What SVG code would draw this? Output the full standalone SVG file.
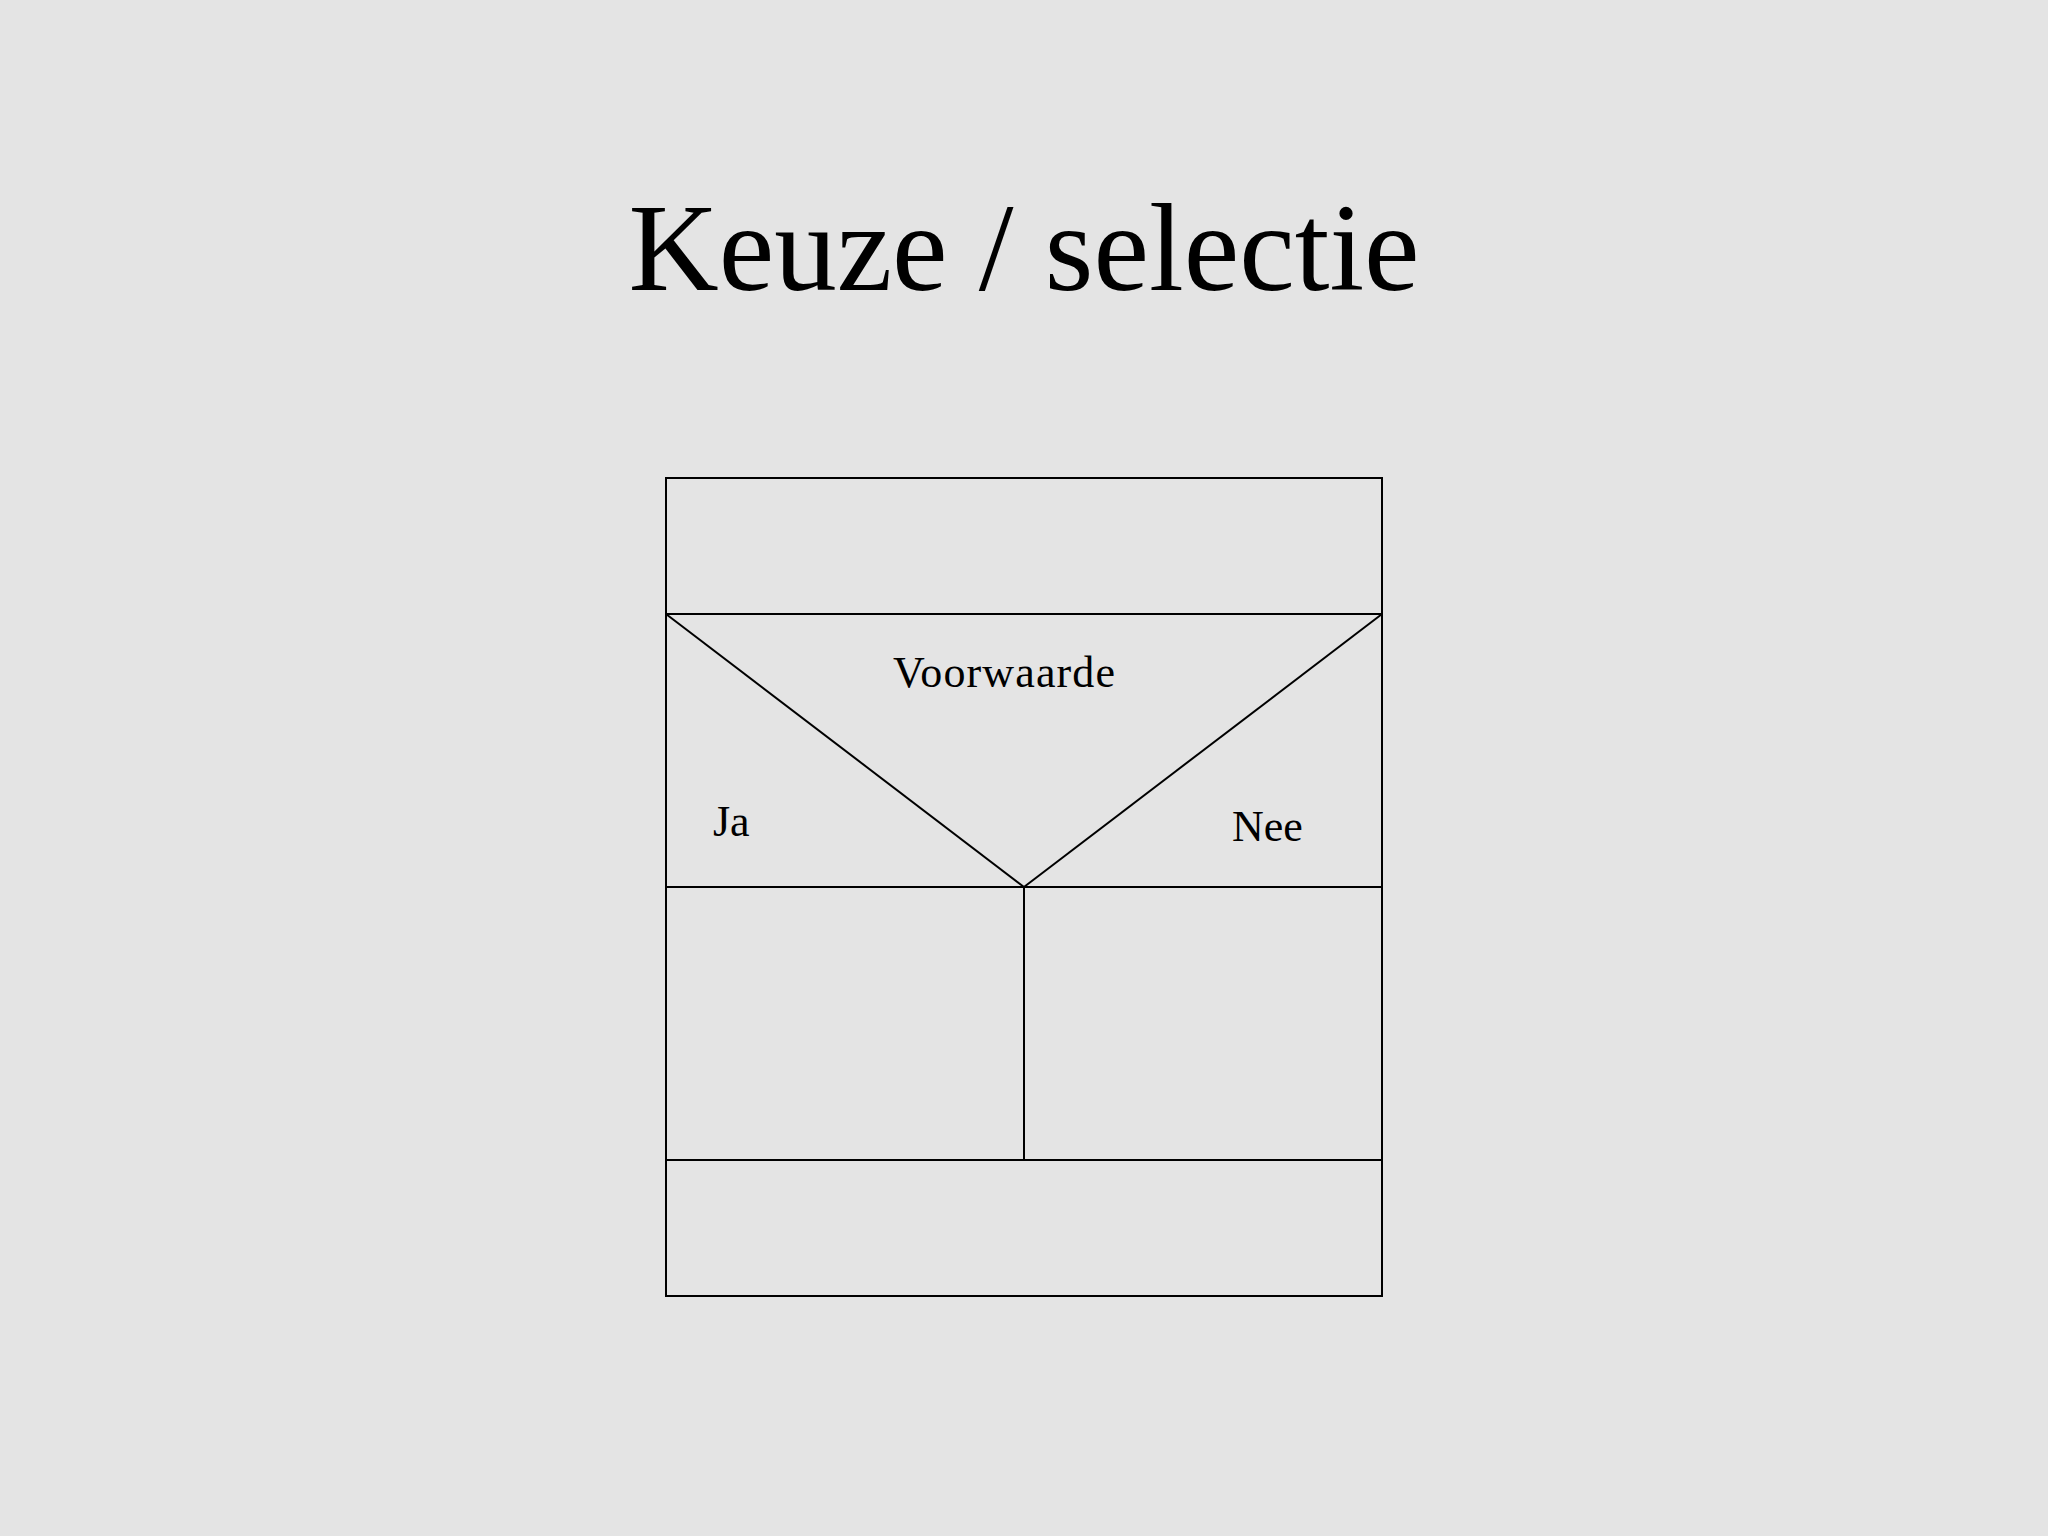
<svg xmlns="http://www.w3.org/2000/svg" width="2048" height="1536" viewBox="0 0 2048 1536">
  <style>
    .box { fill: none; stroke: #000; stroke-width: 2; }
    .ln { stroke: #000; stroke-width: 2; fill: none; }
    .lbl { font-family: "Liberation Serif", "Times New Roman", serif; font-size: 44px; fill: #000; }
    .title { font-family: "Liberation Serif", "Times New Roman", serif; font-size: 125px; fill: #000; }
  </style>
  <rect x="0" y="0" width="2048" height="1536" fill="#e4e4e4"/>
  <text class="title" x="1024" y="290" text-anchor="middle">Keuze / selectie</text>
  <g id="statement-before">
    <rect class="box" x="666" y="478" width="716" height="136"/>
  </g>
  <g id="condition">
    <rect class="box" x="666" y="614" width="716" height="273"/>
    <text class="lbl" x="893" y="687" textLength="222" lengthAdjust="spacing">Voorwaarde</text>
    <text class="lbl" x="713" y="836">Ja</text>
    <text class="lbl" x="1232" y="841">Nee</text>
  </g>
  <g id="branch-yes">
    <rect class="box" x="666" y="887" width="358" height="273"/>
  </g>
  <g id="branch-no">
    <rect class="box" x="1024" y="887" width="358" height="273"/>
  </g>
  <g id="statement-after">
    <rect class="box" x="666" y="1160" width="716" height="136"/>
  </g>
  <g id="connectors">
    <line class="ln" x1="666" y1="614" x2="1024" y2="887"/>
    <line class="ln" x1="1382" y1="614" x2="1024" y2="887"/>
  </g>
</svg>
